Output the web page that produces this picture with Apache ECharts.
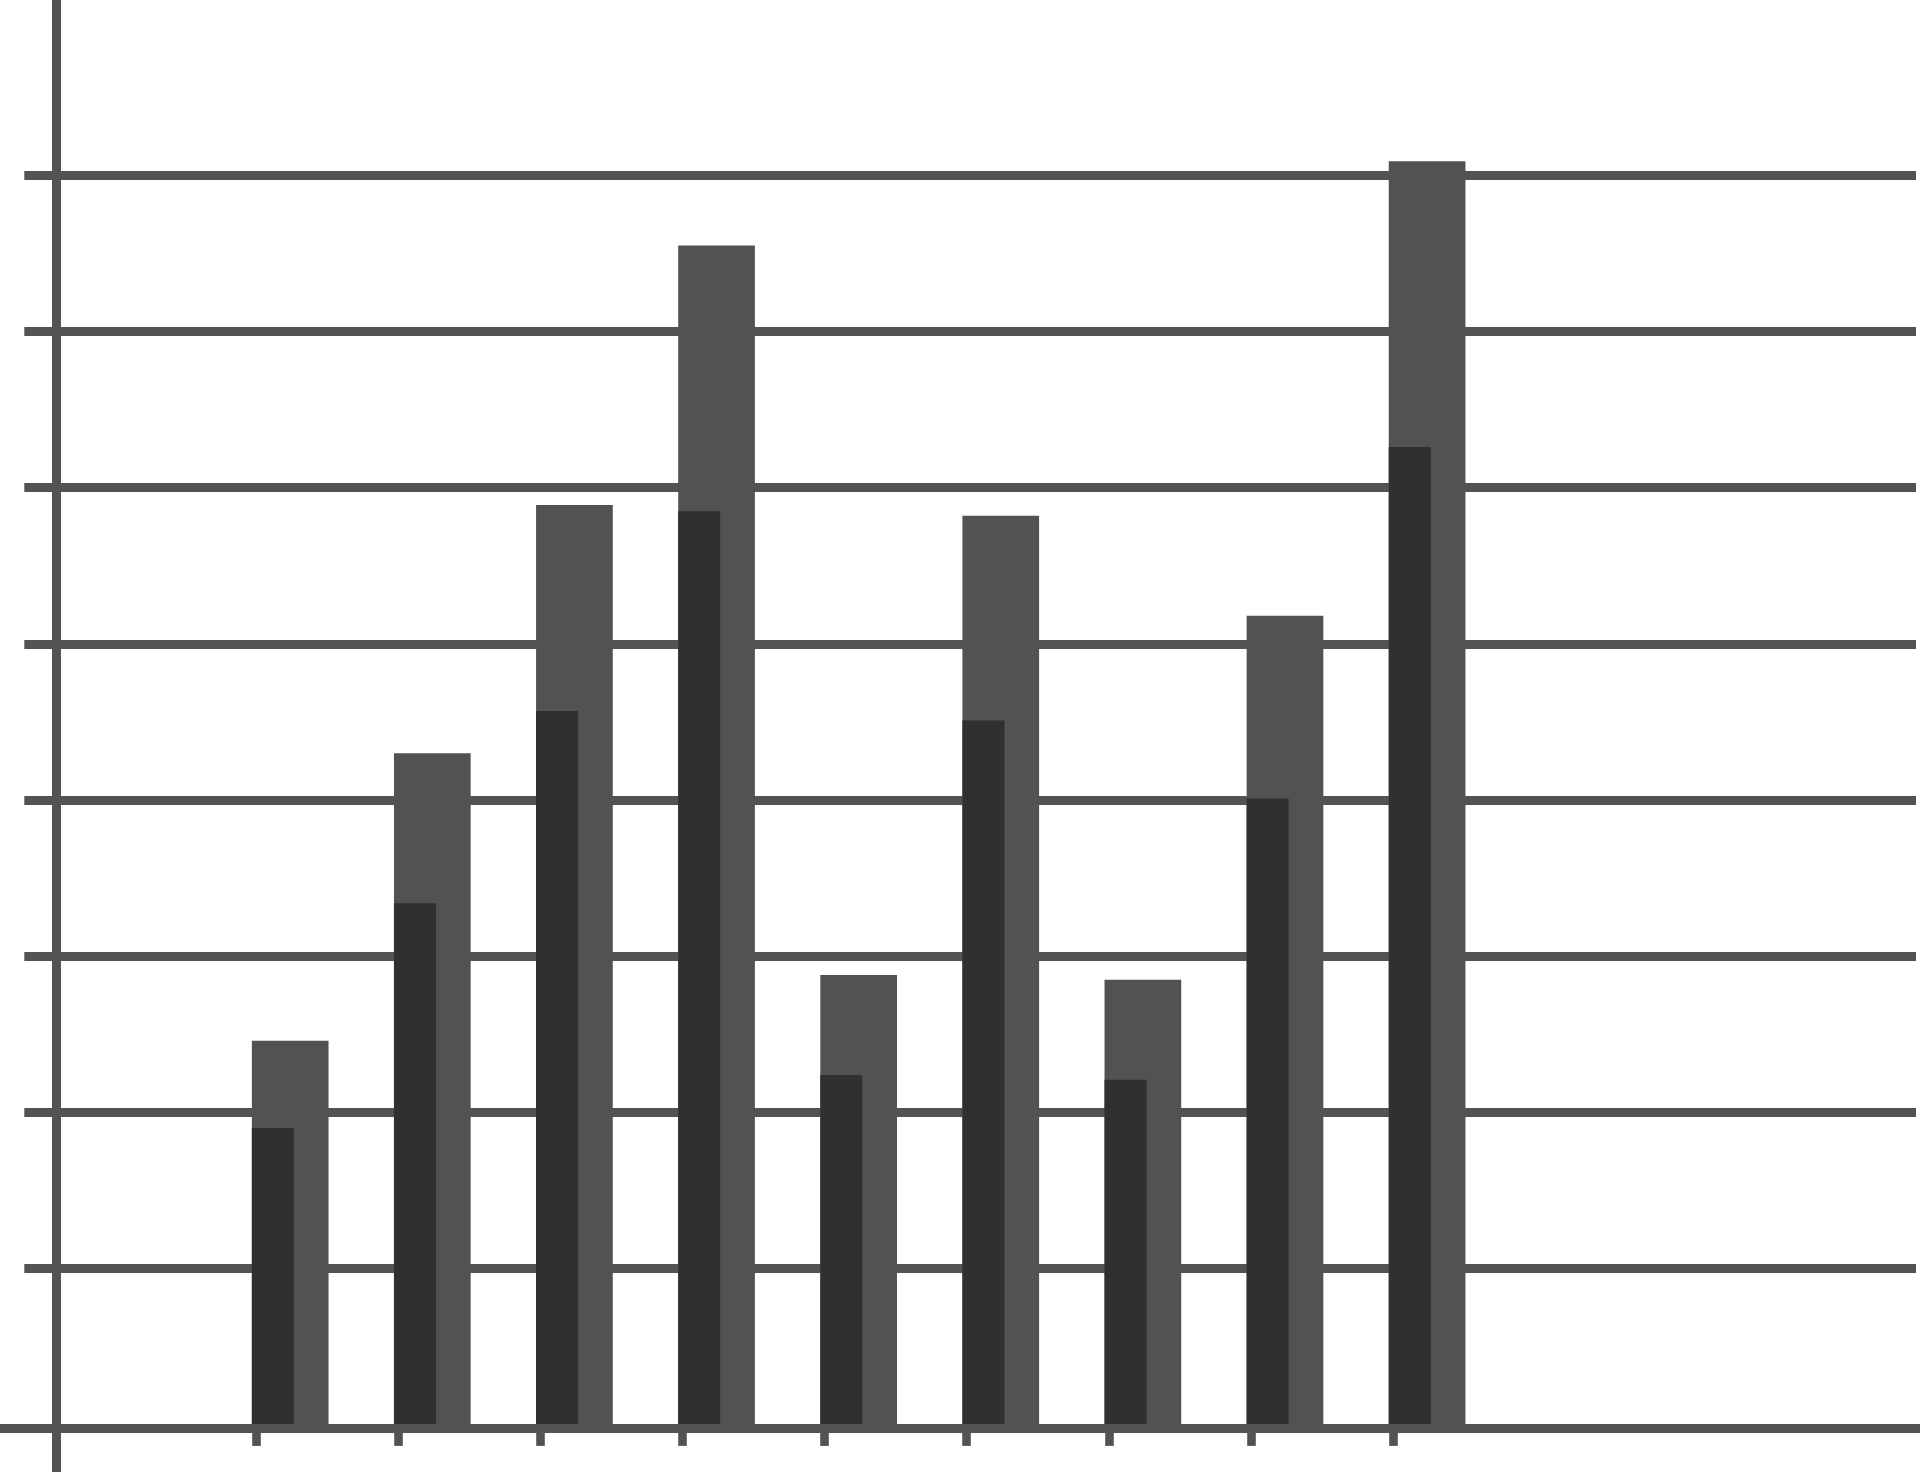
<!DOCTYPE html>
<html>
<head>
<meta charset="utf-8">
<script src="https://cdn.jsdelivr.net/npm/echarts@6/dist/echarts.min.js"></script>
<style>
html,body{margin:0;padding:0;background:#ffffff;}
#chart{width:1920px;height:1472px;}
</style>
</head>
<body>
<div id="chart"></div>
<script>
// ---- data ----
var categories = ['1', '2', '3', '4', '5', '6', '7', '8', '9'];
var backValues = [2.46, 4.30, 5.89, 7.55, 2.88, 5.82, 2.85, 5.18, 8.09];
var frontValues = [1.90, 3.34, 4.57, 5.85, 2.24, 4.51, 2.21, 4.01, 6.26];
var yTicks = [0, 1, 2, 3, 4, 5, 6, 7, 8];

// ---- style ----
var LINE = '#535353';
var BACK = '#525252';
var FRONT = '#303030';
var LW = 9;
var BACK_W = 76.7;
var FRONT_W = 42;
var TICK_W = 8.6;

var chart = echarts.init(document.getElementById('chart'), null, {renderer: 'canvas'});

function barRenderer(width) {
  return function (params, api) {
    var top = api.coord([api.value(0), api.value(1)]);
    var base = api.coord([api.value(0), 0]);
    var x = top[0] - TICK_W / 2;
    return {
      type: 'rect',
      shape: {x: x, y: top[1], width: width, height: base[1] - top[1] + 3},
      style: {fill: api.visual('color')}
    };
  };
}

var option = {
  animation: false,
  backgroundColor: '#ffffff',
  grid: [
    // grid lines
    {left: 24.3, right: 4, top: 175.3, bottom: 47.1, containLabel: false},
    // bars
    {left: 185.1, right: 455.9, top: 175.3, bottom: 47.1, containLabel: false},
    // frame axes
    {left: 0, right: 0, top: 0, bottom: 0, containLabel: false}
  ],
  xAxis: [
    {gridIndex: 0, type: 'value', min: 0, max: 1, show: false},
    {
      gridIndex: 1, type: 'category', data: categories, boundaryGap: true,
      axisLine: {show: false},
      axisLabel: {show: false},
      axisTick: {show: true, alignWithLabel: true, length: 21, lineStyle: {color: LINE, width: TICK_W}},
      splitLine: {show: false}
    },
    {
      gridIndex: 2, type: 'value', min: -56.3, max: 1863.7, z: 5,
      axisLine: {show: true, onZero: true, lineStyle: {color: LINE, width: LW}},
      axisTick: {show: false}, axisLabel: {show: false}, splitLine: {show: false}
    }
  ],
  yAxis: [
    {
      gridIndex: 0, type: 'value', min: yTicks[0], max: yTicks[yTicks.length - 1], interval: 1,
      axisLine: {show: false}, axisTick: {show: false}, axisLabel: {show: false},
      splitLine: {show: true, showMinLine: false, showMaxLine: true, lineStyle: {color: LINE, width: LW}}
    },
    {
      gridIndex: 1, type: 'value', min: yTicks[0], max: yTicks[yTicks.length - 1],
      show: false
    },
    {
      gridIndex: 2, type: 'value', min: -0.02989, max: 0.97011, z: 5,
      axisLine: {show: true, onZero: true, lineStyle: {color: LINE, width: LW}},
      axisTick: {show: false}, axisLabel: {show: false}, splitLine: {show: false}
    }
  ],
  series: [
    {
      type: 'custom', name: 'back', xAxisIndex: 1, yAxisIndex: 1, z: 2,
      itemStyle: {color: BACK},
      renderItem: barRenderer(BACK_W),
      encode: {x: 0, y: 1},
      data: categories.map(function (c, i) { return [i, backValues[i]]; })
    },
    {
      type: 'custom', name: 'front', xAxisIndex: 1, yAxisIndex: 1, z: 3,
      itemStyle: {color: FRONT},
      renderItem: barRenderer(FRONT_W),
      encode: {x: 0, y: 1},
      data: categories.map(function (c, i) { return [i, frontValues[i]]; })
    }
  ]
};
chart.setOption(option);
</script>
</body>
</html>
